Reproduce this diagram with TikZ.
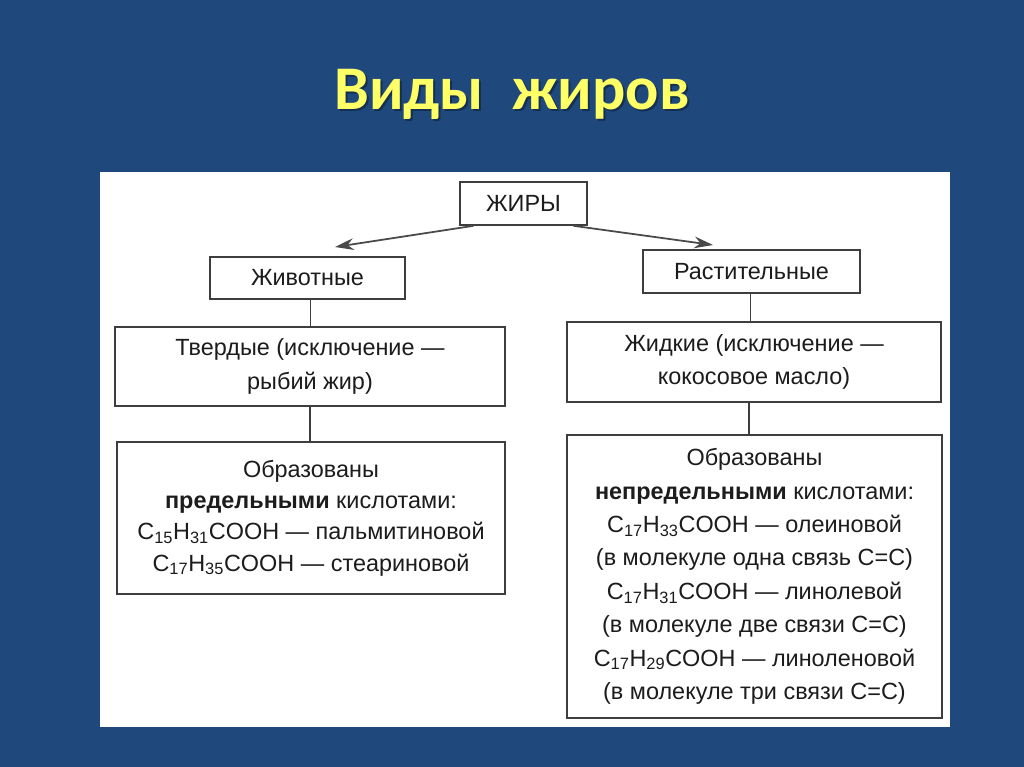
\documentclass[tikz,border=0pt]{standalone}
\usepackage{fontspec}
\usetikzlibrary{arrows.meta}
\setmainfont{Liberation Sans}
\newfontfamily\titlefont{Carlito}
\definecolor{slideblue}{RGB}{31,73,125}
\definecolor{titleyellow}{RGB}{255,255,102}
\definecolor{ink}{RGB}{28,28,28}
\tikzset{
  box/.style={draw=ink!85, line width=1.4pt, fill=white, text=ink, align=center,
    inner sep=0pt, font=\fontsize{20}{28.5}\selectfont},
  arr/.style={-{Stealth[length=16pt,width=10pt]}, draw=ink!80, line width=1.5pt}
}
\begin{document}
\begin{tikzpicture}[x=0.03cm, y=-0.03cm]
  \fill[slideblue] (0,0) rectangle (1024,767);
  \useasboundingbox (0,0) rectangle (1024,767);
  \node[anchor=base, text=black, opacity=0.35, font=\titlefont\bfseries\fontsize{53}{60}\selectfont]
    (shadow) at (514,112) {Виды\ \ жиров};
  \node[anchor=base, text=titleyellow, font=\titlefont\bfseries\fontsize{53}{60}\selectfont]
    (title) at (512,110) {Виды\ \ жиров};
  \fill[white] (100,172) rectangle (950,727);
  \node[box, minimum width=3.81cm, minimum height=1.29cm] (zhiry) at (523.5,203.5) {ЖИРЫ};
  \node[box, minimum width=5.85cm, minimum height=1.26cm] (animal) at (307.5,278) {Животные};
  \node[box, minimum width=6.51cm, minimum height=1.29cm] (plant) at (751.5,271.5) {Растительные};
  \node[box, minimum width=11.7cm, minimum height=2.37cm] (solid) at (310,366.5)
    {Твердые (исключение —\\рыбий жир)};
  \node[box, minimum width=11.22cm, minimum height=2.4cm] (liquid) at (754,362)
    {Жидкие (исключение —\\кокосовое масло)};
  \node[box, minimum width=11.64cm, minimum height=4.56cm, font=\fontsize{20}{26.8}\selectfont]
    (satur) at (311,518)
    {Образованы\\\textbf{предельными} кислотами:\\
     C\textsubscript{15}H\textsubscript{31}COOH — пальмитиновой\\
     C\textsubscript{17}H\textsubscript{35}COOH — стеариновой};
  \node[box, minimum width=11.25cm, minimum height=8.49cm] (unsat) at (754.5,576.5)
    {Образованы\\\textbf{непредельными} кислотами:\\
     C\textsubscript{17}H\textsubscript{33}COOH — олеиновой\\
     (в молекуле одна связь C=C)\\
     C\textsubscript{17}H\textsubscript{31}COOH — линолевой\\
     (в молекуле две связи C=C)\\
     C\textsubscript{17}H\textsubscript{29}COOH — линоленовой\\
     (в молекуле три связи C=C)};
  \coordinate (lefttip) at (335,247);
  \coordinate (righttip) at (713,245);
  \draw[arr] ([xshift=-1.5cm]zhiry.south) to (lefttip);
  \draw[arr] ([xshift=1.5cm]zhiry.south) to (righttip);
  \begin{scope}[draw=ink!85, line width=1.4pt]
    \draw ([xshift=2.5pt]animal.south) to ([xshift=2.5pt]animal.south |- solid.north);
    \draw ([xshift=-1pt]plant.south) to ([xshift=-1pt]plant.south |- liquid.north);
    \draw (solid.south) to (solid.south |- satur.north);
    \draw ([xshift=-4pt]liquid.south) to ([xshift=-4pt]liquid.south |- unsat.north);
  \end{scope}
\end{tikzpicture}
\end{document}
